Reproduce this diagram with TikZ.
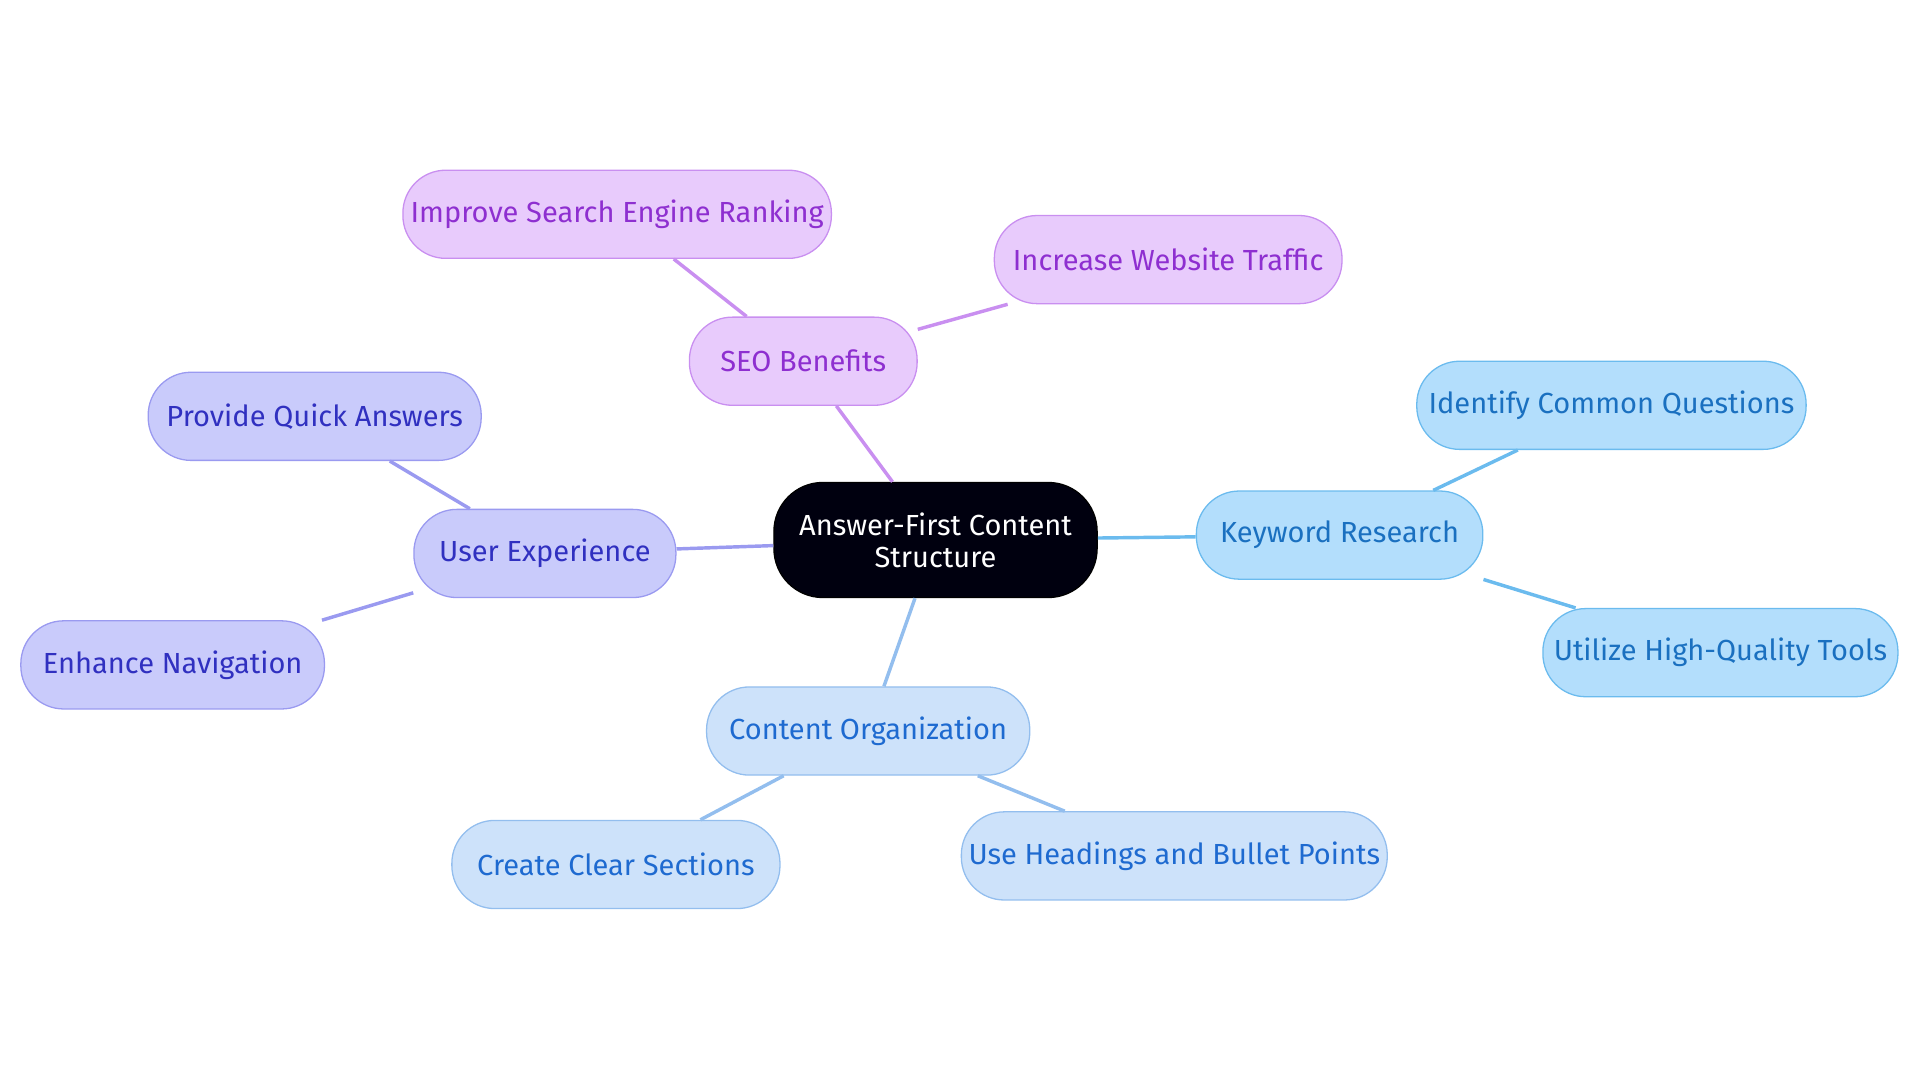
\documentclass[tikz,border=0pt]{standalone}
\usepackage{fontspec}
\setmainfont{Fira Sans}
\begin{document}
\begin{tikzpicture}[x=0.02cm,y=-0.02cm,
 base/.style={rounded corners=0.7cm,minimum height=1.44cm,line width=0.6pt,font=\fontsize{13.5}{15}\selectfont\addfontfeatures{}},
 seo/.style={base,fill=seoF,draw=seoD,text=seoT},
 ux/.style={base,fill=uxF,draw=uxD,text=uxT},
 kw/.style={base,fill=kwF,draw=kwD,text=kwT},
 co/.style={base,fill=coF,draw=coD,text=coT},
 ln/.style={line width=1.6pt}]
\definecolor{seoF}{HTML}{E8CBFC}\definecolor{seoD}{HTML}{C98FF0}\definecolor{seoT}{HTML}{8E2FD0}
\definecolor{uxF}{HTML}{C9CBFB}\definecolor{uxD}{HTML}{9A9AF0}\definecolor{uxT}{HTML}{3030C0}
\definecolor{kwF}{HTML}{B3DEFC}\definecolor{kwD}{HTML}{6BBBEE}\definecolor{kwT}{HTML}{1A70C0}
\definecolor{coF}{HTML}{CDE2FA}\definecolor{coD}{HTML}{93BEEE}\definecolor{coT}{HTML}{1E6AD0}
\useasboundingbox (0,0) rectangle (1568,884);
\node[base,fill=black!90!blue!60!black,draw=black,text=white,minimum width=5.28cm,minimum height=1.88cm,align=center,rounded corners=0.8cm] (root) at (764,441) {Answer-First Content\\Structure};
\node[seo,minimum width=3.72cm] (seo) at (656,295) {SEO Benefits};
\node[seo,minimum width=7cm] (s1) at (504,175) {Improve Search Engine Ranking};
\node[seo,minimum width=5.68cm] (s2) at (954,212) {Increase Website Traffic};
\node[ux,minimum width=4.28cm] (ux) at (445,452) {User Experience};
\node[ux,minimum width=5.44cm] (u1) at (257,340) {Provide Quick Answers};
\node[ux,minimum width=4.96cm] (u2) at (141,543) {Enhance Navigation};
\node[kw,minimum width=4.68cm] (kw) at (1094,437) {Keyword Research};
\node[kw,minimum width=6.36cm] (k1) at (1316,331) {Identify Common Questions};
\node[kw,minimum width=5.8cm] (k2) at (1405,533) {Utilize High-Quality Tools};
\node[co,minimum width=5.28cm] (co) at (709,597) {Content Organization};
\node[co,minimum width=5.36cm] (c1) at (503,706) {Create Clear Sections};
\node[co,minimum width=6.92cm] (c2) at (959,699) {Use Headings and Bullet Points};
\begin{scope}[on background layer/.style={}]
\end{scope}
\draw[ln,seoD] (root) -- (seo); \draw[ln,seoD] (seo) -- (s1); \draw[ln,seoD] (seo) -- (s2);
\draw[ln,uxD] (root) -- (ux); \draw[ln,uxD] (ux) -- (u1); \draw[ln,uxD] (ux) -- (u2);
\draw[ln,kwD] (root) -- (kw); \draw[ln,kwD] (kw) -- (k1); \draw[ln,kwD] (kw) -- (k2);
\draw[ln,coD] (root) -- (co); \draw[ln,coD] (co) -- (c1); \draw[ln,coD] (co) -- (c2);
\end{tikzpicture}
\end{document}
